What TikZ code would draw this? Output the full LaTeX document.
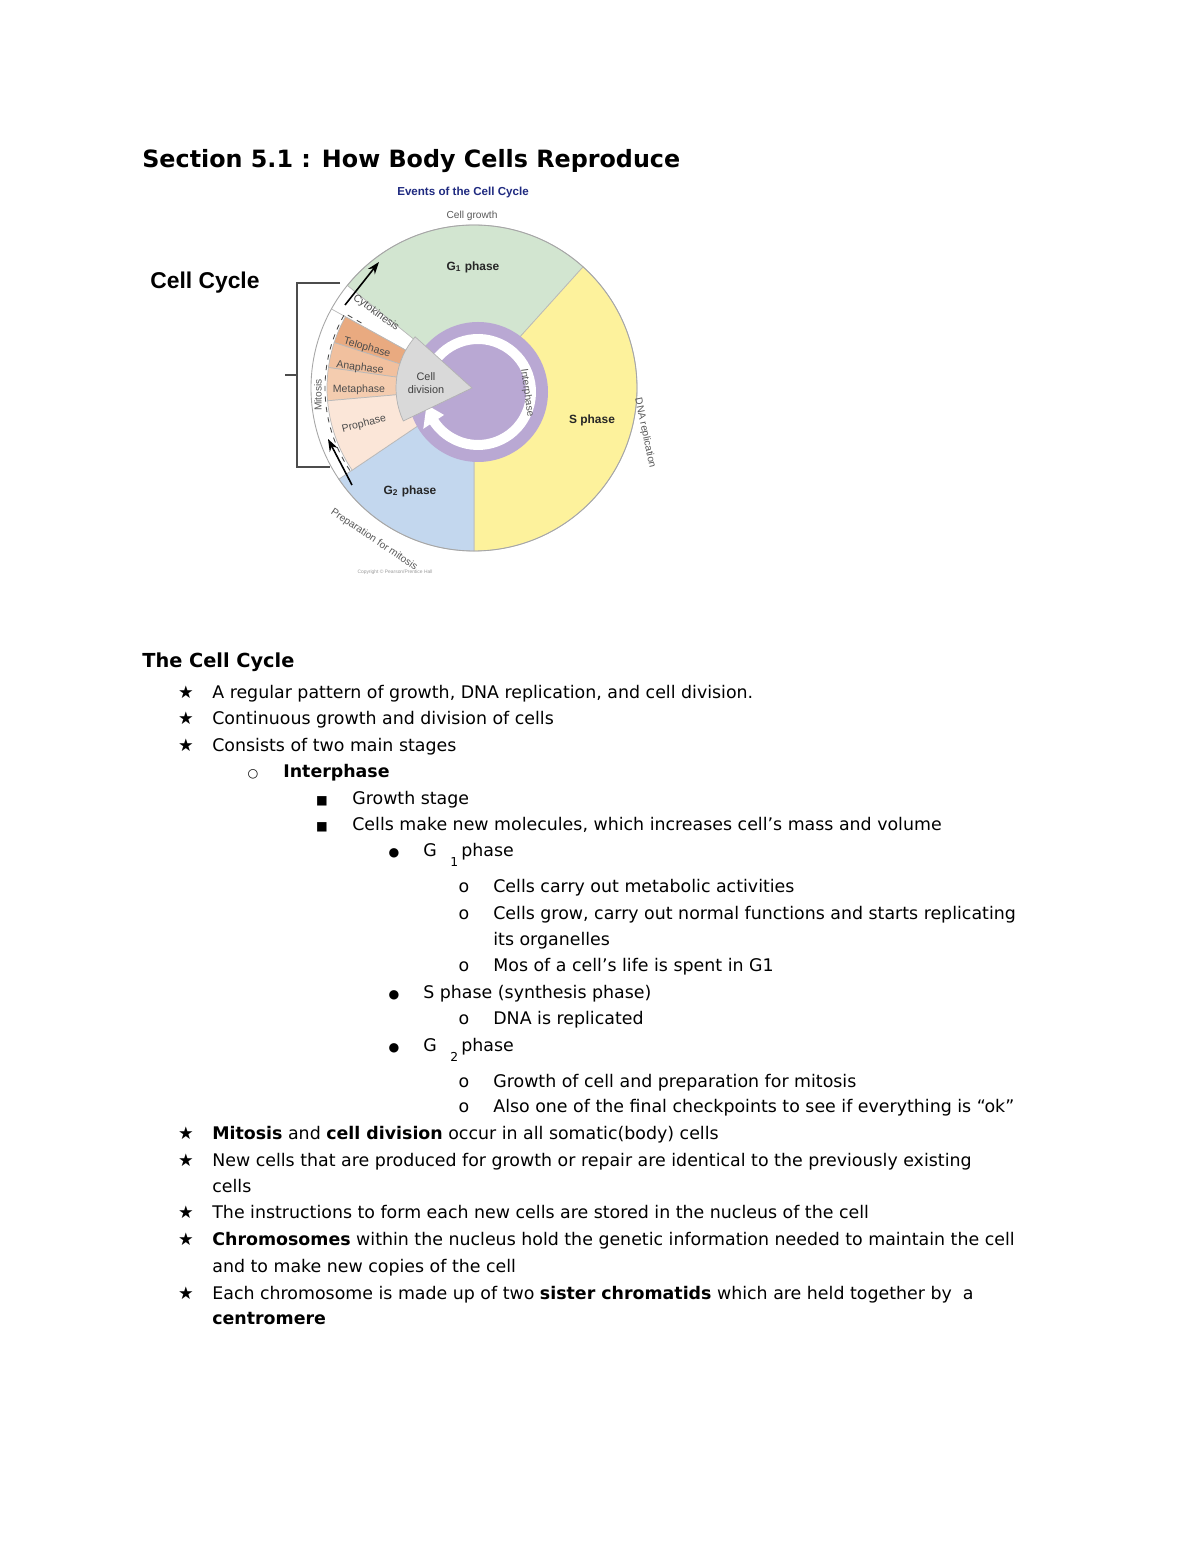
\documentclass[tikz,border=0pt]{standalone}
\usepackage{fontspec}
\setmainfont{DejaVu Sans}
\newfontfamily\arial{Liberation Sans}
\usetikzlibrary{arrows.meta}
\definecolor{gone}{HTML}{D2E5D0}
\definecolor{sph}{HTML}{FDF29C}
\definecolor{gtwo}{HTML}{C3D7EE}
\definecolor{purp}{HTML}{B9A8D3}
\definecolor{tel}{HTML}{E9AA80}
\definecolor{ana}{HTML}{F1C09E}
\definecolor{meta}{HTML}{F4CCAF}
\definecolor{pro}{HTML}{FBE6D8}
\definecolor{navyt}{HTML}{1F2A80}
\newcommand\bline[3]{\node[anchor=base west,inner sep=0pt,font=\fontsize{9.9}{11}\selectfont] at (#1,#2) {#3};}
\newcommand\bsym[3]{\node[anchor=base,inner sep=0pt,font=\fontsize{9.9}{11}\selectfont] at (#1,#2) {#3};}
\begin{document}
\begin{tikzpicture}[x=0.02cm,y=0.02cm,
  edge/.style={draw=gray!55,line width=0.4pt},
  plab/.style={font=\arial\fontsize{6.8}{7}\selectfont\bfseries,text=black!85},
  mlab/.style={font=\arial\fontsize{6}{7}\selectfont,text=black!70,inner sep=0.5pt},
  ctext/.style={font=\arial\fontsize{5.8}{7}\selectfont,text=black!65,inner sep=0.5pt}]
\useasboundingbox (0,0) rectangle (1200,1553);
\fill[white] (0,0) rectangle (1200,1553);
% title
\node[anchor=base west,inner sep=0pt] (title) at (142,1385) {\resizebox{10.76cm}{!}{\bfseries Section 5.1 : How Body Cells Reproduce}};
\node[font=\arial\fontsize{6.6}{7}\selectfont\bfseries,text=navyt] (ev) at (463,1360) {Events of the Cell Cycle};
\node[font=\arial\fontsize{13}{14}\selectfont\bfseries,anchor=west,inner sep=0pt] (cc) at (150,1270) {Cell Cycle};
% bracket
\draw[black!70,line width=0.6pt] (340,1270) -- (297,1270) -- (297,1086) -- (330,1086);
\draw[black!70,line width=0.6pt] (285,1178) -- (297,1178);
% wheel
\begin{scope}[shift={(474,1165)}]
\fill[white] (0,0) circle[radius=163];
\filldraw[fill=gone,edge] (0,0) -- (48:163) arc[start angle=48,end angle=141,radius=163] -- cycle;
\filldraw[fill=sph,edge] (0,0) -- (-90:163) arc[start angle=-90,end angle=48,radius=163] -- cycle;
\filldraw[fill=gtwo,edge] (0,0) -- (214:163) arc[start angle=214,end angle=270,radius=163] -- cycle;
\draw[edge] (0,0) -- (151:163);
\filldraw[fill=tel,edge] (0,0) -- (151:147) arc[start angle=151,end angle=162,radius=147] -- cycle;
\filldraw[fill=ana,edge] (0,0) -- (162:147) arc[start angle=162,end angle=172,radius=147] -- cycle;
\filldraw[fill=meta,edge] (0,0) -- (172:147) arc[start angle=172,end angle=185,radius=147] -- cycle;
\filldraw[fill=pro,edge] (0,0) -- (185:147) arc[start angle=185,end angle=214,radius=147] -- cycle;
\draw[black!70,dashed,line width=0.5pt] (150:130) -- (150:149) arc[start angle=150,end angle=214,radius=149];
\draw[gray!70,line width=0.5pt] (0,0) circle[radius=163];
\end{scope}
\node[ctext] (cg) at (472,1337) {Cell growth};
\node[ctext,rotate=-78] (dna) at (645,1120) {DNA replication};
\node[ctext,rotate=-34] (prep) at (374,1013) {Preparation for mitosis};
% arrows in band
\coordinate (a1s) at (345,1248); \coordinate (a1e) at (379,1291);
\coordinate (a2s) at (352,1068); \coordinate (a2e) at (328,1114);
\draw[-{Stealth[length=7pt,width=5pt]},line width=0.9pt] (a1s) -- (a1e);
\draw[-{Stealth[length=7pt,width=5pt]},line width=0.9pt] (a2s) -- (a2e);
% interphase ring
\begin{scope}[shift={(478,1161)}]
\fill[purp] (0,0) circle[radius=70];
\draw[white,line width=0.2cm] (150:53) arc[start angle=150,end angle=-150,radius=53];
\fill[white] (-146:41) -- (-146:66) -- (-166:53) -- cycle;
\end{scope}
\begin{scope}[shift={(474,1165)}]
\filldraw[fill=gray!30,draw=gray!60,line width=0.4pt] (-2,0) -- (139:78) arc[start angle=139,end angle=205,radius=78] -- cycle;
\end{scope}
% labels
\node[plab] (g1) at (473,1286) {G\textsubscript{1} phase};
\node[plab] (sp) at (592,1133) {S phase};
\node[plab] (g2) at (410,1062) {G\textsubscript{2} phase};
\node[ctext,rotate=90] (mit) at (318,1158) {Mitosis};
\node[ctext,rotate=-82] (inter) at (527,1160) {Interphase};
\node[mlab,rotate=-36] (cyto) at (376,1240) {Cytokinesis};
\node[mlab,rotate=-16] (telo) at (367,1205) {Telophase};
\node[mlab,rotate=-7] (anap) at (360,1185) {Anaphase};
\node[mlab] (metap) at (359,1163) {Metaphase};
\node[mlab,rotate=14] (prop) at (364,1129) {Prophase};
\node[ctext,align=center,font=\arial\fontsize{6.2}{7}\selectfont,text=black!75] (celld) at (426,1170) {Cell\\division};
\node[font=\arial\fontsize{2.8}{3}\selectfont,text=gray!80] (copy) at (395,981) {Copyright \copyright{} Pearson/Prentice Hall};
% body text
\node[anchor=base west,inner sep=0pt,font=\fontsize{11}{12}\selectfont\bfseries] (h2) at (142,885) {The Cell Cycle};
\bsym{186}{854}{★}\bline{212}{854}{A regular pattern of growth, DNA replication, and cell division.}
\bsym{186}{828}{★}\bline{212}{828}{Continuous growth and division of cells}
\bsym{186}{801}{★}\bline{212}{801}{Consists of two main stages}
\bsym{253}{775}{\scriptsize○}\bline{283}{775}{\bfseries Interphase}
\bsym{322}{748}{\scriptsize■}\bline{352}{748}{Growth stage}
\bsym{322}{722}{\scriptsize■}\bline{352}{722}{Cells make new molecules, which increases cell’s mass and volume}
\bsym{394}{696}{\scriptsize●}\bline{423}{696}{G}\bline{450}{686}{\scriptsize 1}\bline{461}{696}{phase}
\bsym{464}{660}{o}\bline{493}{660}{Cells carry out metabolic activities}
\bsym{464}{633}{o}\bline{493}{633}{Cells grow, carry out normal functions and starts replicating}
\bline{493}{607}{its organelles}
\bsym{464}{581}{o}\bline{493}{581}{Mos of a cell’s life is spent in G1}
\bsym{394}{554}{\scriptsize●}\bline{423}{554}{S phase (synthesis phase)}
\bsym{464}{528}{o}\bline{493}{528}{DNA is replicated}
\bsym{394}{501}{\scriptsize●}\bline{423}{501}{G}\bline{450}{491}{\scriptsize 2}\bline{461}{501}{phase}
\bsym{464}{465}{o}\bline{493}{465}{Growth of cell and preparation for mitosis}
\bsym{464}{440}{o}\bline{493}{440}{Also one of the final checkpoints to see if everything is “ok”}
\bsym{186}{413}{★}\bline{212}{413}{\textbf{Mitosis} and \textbf{cell division} occur in all somatic(body) cells}
\bsym{186}{386}{★}\bline{212}{386}{New cells that are produced for growth or repair are identical to the previously existing}
\bline{212}{360}{cells}
\bsym{186}{334}{★}\bline{212}{334}{The instructions to form each new cells are stored in the nucleus of the cell}
\bsym{186}{307}{★}\bline{212}{307}{\textbf{Chromosomes} within the nucleus hold the genetic information needed to maintain the cell}
\bline{212}{280}{and to make new copies of the cell}
\bsym{186}{253}{★}\bline{212}{253}{Each chromosome is made up of two \textbf{sister chromatids} which are held together by\ \ a}
\bline{212}{228}{\textbf{centromere}}
\end{tikzpicture}
\end{document}
